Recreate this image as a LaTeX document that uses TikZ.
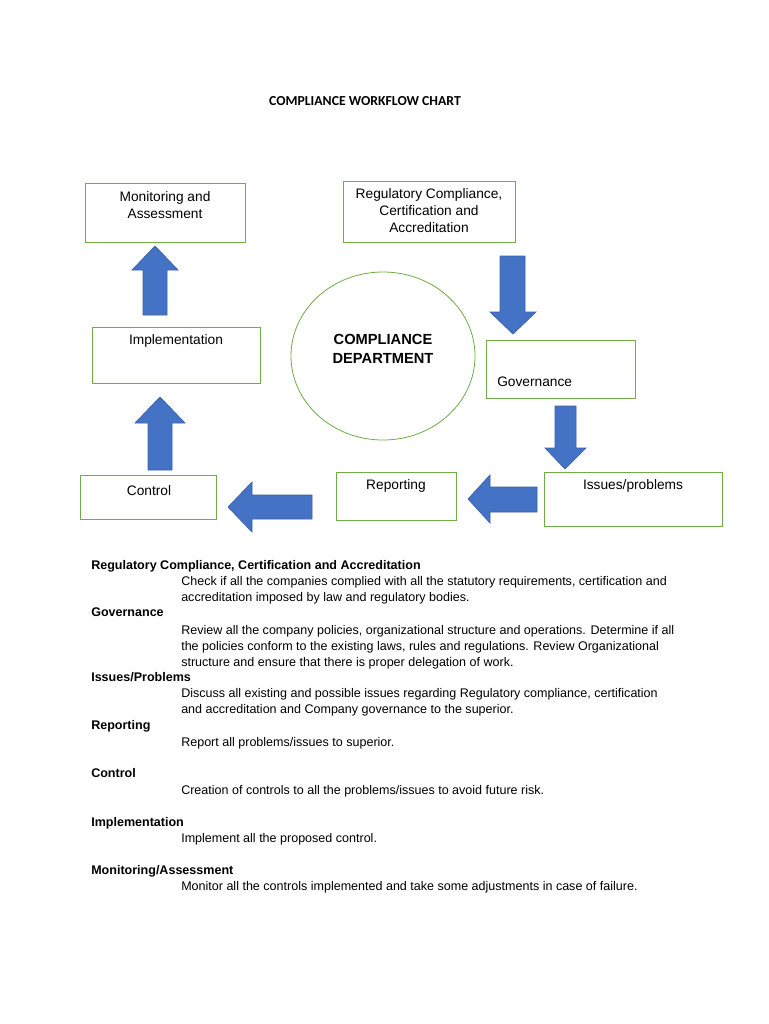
\documentclass[tikz,border=0pt]{standalone}
\usepackage{fontspec}
\setmainfont{Liberation Sans}
\newfontfamily\titlefont{Carlito}
\usetikzlibrary{shapes.geometric}
\definecolor{boxgreen}{RGB}{112,173,71}
\definecolor{arrowblue}{RGB}{68,114,196}
\definecolor{arrowedge}{RGB}{58,98,170}
\begin{document}
\begin{tikzpicture}[x=0.75pt,y=-0.75pt,
  box/.style={draw=boxgreen, line width=0.6pt, inner sep=0pt, rectangle},
  boxtext/.style={inner sep=0pt, font=\fontsize{10.3}{13}\selectfont, align=center},
  blockarrow/.style={fill=arrowblue, draw=arrowedge, line width=0.5pt, line join=miter},
  head/.style={inner sep=0pt, anchor=base west, font=\fontsize{9.4}{12}\selectfont\bfseries},
  body/.style={inner sep=0pt, anchor=base west, font=\fontsize{9.4}{12}\selectfont}]
\useasboundingbox (0,0) rectangle (768,1024);
\fill[white] (0,0) rectangle (768,1024);

% title
\node[inner sep=0pt, font=\titlefont\fontsize{10.3}{12}\selectfont\bfseries] (title) at (365,101) {COMPLIANCE WORKFLOW CHART};

% boxes
\node[box, minimum width=120pt, minimum height=44.25pt] (mon) at (165,212.5) {};
\node[box, minimum width=129pt, minimum height=45.75pt] (reg) at (429,211.5) {};
\node[box, minimum width=126pt, minimum height=42pt] (imp) at (176,355) {};
\node[box, minimum width=111.75pt, minimum height=43.5pt] (gov) at (560.5,369) {};
\node[box, minimum width=102pt, minimum height=33pt] (ctl) at (148,497) {};
\node[box, minimum width=90pt, minimum height=36pt] (rep) at (396,496) {};
\node[box, minimum width=133.5pt, minimum height=40.5pt] (iss) at (633,499) {};
\node[draw=boxgreen, line width=0.6pt, ellipse, inner sep=0pt, minimum width=138pt, minimum height=126pt] (dept) at (383,356) {};

% box texts
\node[boxtext, anchor=north] (monT) at (165,191) {Monitoring and\\Assessment};
\node[boxtext, anchor=north] (regT) at (429,188) {Regulatory Compliance,\\Certification and\\Accreditation};
\node[boxtext, anchor=north] (impT) at (176,334.5) {Implementation};
\node[boxtext, anchor=north west] (govT) at (497,376.5) {Governance};
\node[boxtext, anchor=north] (ctlT) at (149,485.5) {Control};
\node[boxtext, anchor=north] (repT) at (396,479.5) {Reporting};
\node[boxtext, anchor=north] (issT) at (633,479.5) {Issues/problems};
\node[inner sep=0pt, anchor=north, align=center, font=\fontsize{11}{14.25}\selectfont\bfseries] (deptT) at (383,334) {COMPLIANCE\\DEPARTMENT};

% block arrows
\fill[blockarrow] (143,315) -- (143,270) -- (132,270) -- (155,246) -- (178,270) -- (167,270) -- (167,315) -- cycle;
\fill[blockarrow] (148,470) -- (148,423) -- (135,423) -- (160,397) -- (185,423) -- (172,423) -- (172,470) -- cycle;
\fill[blockarrow] (500,256) -- (525,256) -- (525,312) -- (536,312) -- (513,334) -- (490,312) -- (500,312) -- cycle;
\fill[blockarrow] (555,406) -- (576,406) -- (576,448) -- (586,448) -- (565,469) -- (545,448) -- (555,448) -- cycle;
\fill[blockarrow] (537,487) -- (537,512) -- (490,512) -- (490,523) -- (468,499) -- (490,475) -- (490,487) -- cycle;
\fill[blockarrow] (312,495) -- (312,519) -- (252,519) -- (252,532) -- (228,507) -- (252,482) -- (252,495) -- cycle;

% descriptions
\node[head] (h1) at (91,569.5) {Regulatory Compliance, Certification and Accreditation};
\node[body] (b1a) at (181,585.5) {Check if all the companies complied with all the statutory requirements, certification and};
\node[body] (b1b) at (181,601.5) {accreditation imposed by law and regulatory bodies.};
\node[head] (h2) at (91,616.5) {Governance};
\node[body] (b2a) at (181,634.5) {Review all the company policies, organizational structure and operations. Determine if all};
\node[body] (b2b) at (181,650.5) {the policies conform to the existing laws, rules and regulations. Review Organizational};
\node[body] (b2c) at (181,666.5) {structure and ensure that there is proper delegation of work.};
\node[head] (h3) at (91,681.5) {Issues/Problems};
\node[body] (b3a) at (181,697.5) {Discuss all existing and possible issues regarding Regulatory compliance, certification};
\node[body] (b3b) at (181,713.5) {and accreditation and Company governance to the superior.};
\node[head] (h4) at (91,729.5) {Reporting};
\node[body] (b4) at (181,746.5) {Report all problems/issues to superior.};
\node[head] (h5) at (91,777.5) {Control};
\node[body] (b5) at (181,794.5) {Creation of controls to all the problems/issues to avoid future risk.};
\node[head] (h6) at (91,826.5) {Implementation};
\node[body] (b6) at (181,842.5) {Implement all the proposed control.};
\node[head] (h7) at (91,874.5) {Monitoring/Assessment};
\node[body] (b7) at (181,890.5) {Monitor all the controls implemented and take some adjustments in case of failure.};
\end{tikzpicture}
\end{document}
